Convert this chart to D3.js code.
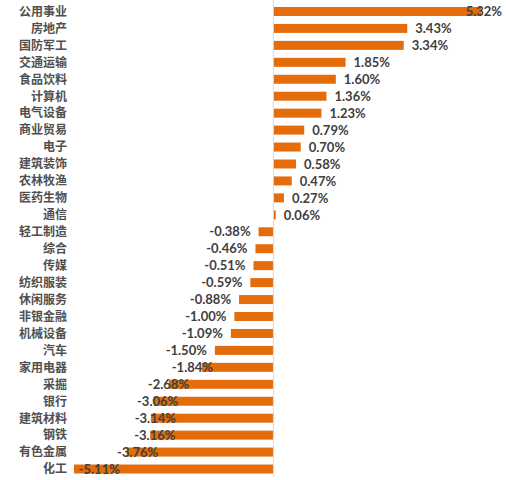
<!DOCTYPE html>
<html lang="zh">
<head>
<meta charset="utf-8">
<script src="https://cdn.jsdelivr.net/npm/d3@7"></script>
<style>
  body { margin: 0; background: #fff; }
  .cat { font: bold 12px "Noto Sans CJK SC", sans-serif; fill: #505050; }
  .val { font: bold 13px Lato, "Liberation Sans", sans-serif; fill: #404040; }
</style>
</head>
<body>
<div id="chart"></div>
<script>
  const categories = ['公用事业', '房地产', '国防军工', '交通运输', '食品饮料', '计算机', '电气设备',
    '商业贸易', '电子', '建筑装饰', '农林牧渔', '医药生物', '通信', '轻工制造', '综合', '传媒',
    '纺织服装', '休闲服务', '非银金融', '机械设备', '汽车', '家用电器', '采掘', '银行',
    '建筑材料', '钢铁', '有色金属', '化工'];
  const values = [5.32, 3.43, 3.34, 1.85, 1.60, 1.36, 1.23, 0.79, 0.70, 0.58, 0.47, 0.27, 0.06,
    -0.38, -0.46, -0.51, -0.59, -0.88, -1.00, -1.09, -1.50, -1.84, -2.68, -3.06, -3.14, -3.16,
    -3.76, -5.11];

  const width = 506, height = 480;
  const data = categories.map((c, i) => ({ name: c, value: values[i] }));

  const svg = d3.select('#chart').append('svg')
    .attr('width', width)
    .attr('height', height);

  const x = d3.scaleLinear().domain(d3.extent(values)).range([74, 481]);
  const y = d3.scaleBand().domain(categories).range([3, 477.5])
    .paddingInner(0.47).paddingOuter(0.235);

  // bars
  svg.selectAll('.bar')
    .data(data)
    .enter()
    .append('rect')
    .attr('class', 'bar')
    .attr('x', d => Math.min(x(0), x(d.value)))
    .attr('y', d => y(d.name))
    .attr('width', d => Math.abs(x(d.value) - x(0)))
    .attr('height', y.bandwidth())
    .attr('fill', '#e46c0a');

  // zero axis line
  svg.append('line')
    .attr('x1', x(0)).attr('x2', x(0))
    .attr('y1', 0).attr('y2', 477)
    .attr('stroke', '#d9d9d9')
    .attr('stroke-width', 1);

  // category labels
  svg.selectAll('.cat')
    .data(data)
    .enter()
    .append('text')
    .attr('class', 'cat')
    .attr('x', 67)
    .attr('y', d => y(d.name) + y.bandwidth() / 2)
    .attr('dy', '0.36em')
    .attr('text-anchor', 'end')
    .text(d => d.name);

  // value labels (excel style: outside end, squeezed in on the long ones)
  svg.selectAll('.val')
    .data(data)
    .enter()
    .append('text')
    .attr('class', 'val')
    .attr('y', d => y(d.name) + y.bandwidth() / 2)
    .attr('dy', '0.36em')
    .text(d => d.value.toFixed(2) + '%')
    .each(function(d) {
      const w = this.getComputedTextLength();
      let left;
      if (d.value >= 0) {
        left = Math.min(x(d.value) + 8, width - 4 - w);
      } else if (d.value > -1.6) {
        left = x(d.value) - 8 - w;
      } else {
        left = x(d.value * 0.73) - 8 - w;
      }
      d3.select(this).attr('x', left);
    });
</script>
</body>
</html>
